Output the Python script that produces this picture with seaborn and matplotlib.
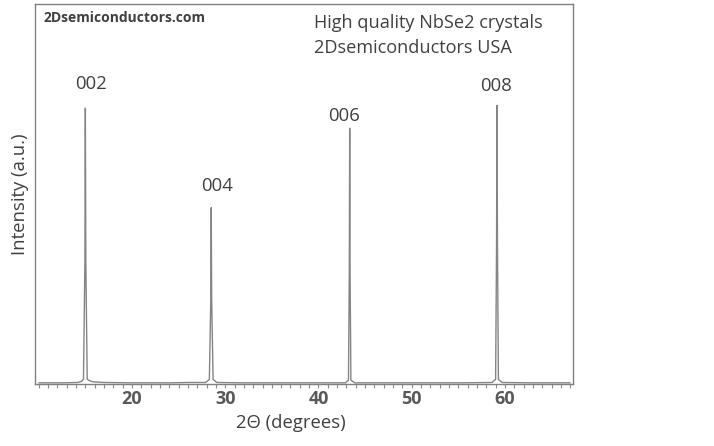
import pandas as pd
import matplotlib.pyplot as plt
import matplotlib.ticker as mticker
import seaborn as sns

# XRD pattern of NbSe2 (2-theta in degrees, intensity in a.u.)
two_theta = [10.0, 12.5, 14.2, 14.6, 14.8, 14.95, 15.0, 15.05, 15.2, 15.4, 15.8, 16.3, 17.0,
             20.0, 24.0, 26.0, 27.9, 28.3, 28.45, 28.5, 28.55, 28.7, 29.1, 32.0,
             36.0, 40.0, 42.9, 43.22, 43.31, 43.35, 43.39, 43.48, 43.9, 47.0,
             51.0, 55.0, 58.6, 59.0, 59.1, 59.15, 59.2, 59.3, 59.7, 63.0, 67.0]
intensity = [0.3, 0.3, 0.4, 0.7, 1.3, 32.0, 72.6, 32.0, 1.3, 0.9, 0.6, 0.5, 0.4,
             0.3, 0.3, 0.4, 0.4, 1.2, 22.0, 46.4, 22.0, 1.2, 0.4, 0.3,
             0.3, 0.3, 0.3, 1.0, 30.0, 67.3, 30.0, 1.0, 0.3, 0.3,
             0.3, 0.3, 0.4, 1.2, 36.0, 73.3, 36.0, 1.2, 0.4, 0.3, 0.3]

peak_labels = ['002', '004', '006', '008']
label_x = [15.6, 29.1, 42.8, 59.0]
label_y = [79.0, 52.0, 70.5, 78.5]

df = pd.DataFrame({'two_theta': two_theta, 'intensity': intensity})

sns.set_style('white')
plt.rcParams['font.family'] = ['Open Sans', 'DejaVu Sans']

fig = plt.figure(figsize=(7.14, 4.46), dpi=100)
ax = fig.add_axes([35 / 714, 1 - 384 / 446, 538 / 714, 380 / 446])

sns.lineplot(data=df, x='two_theta', y='intensity', ax=ax, color='#858585', linewidth=1.0)

ax.set_xlim(9.6, 67.3)
ax.set_ylim(0, 100)
ax.xaxis.set_major_locator(mticker.FixedLocator([20, 30, 40, 50, 60]))
ax.xaxis.set_minor_locator(mticker.FixedLocator(list(range(10, 68))))
ax.tick_params(axis='x', which='both', direction='out', length=3, width=0.8,
               color='#8c8c8c', bottom=True, pad=1.5)
ax.tick_params(axis='x', which='major', labelsize=13, labelcolor='#595959')
for lab in ax.get_xticklabels():
    lab.set_fontweight('bold')
ax.set_yticks([])

for side in ['left', 'right', 'top', 'bottom']:
    ax.spines[side].set_visible(True)
    ax.spines[side].set_color('#808080')
    ax.spines[side].set_linewidth(1.0)

ax.set_xlabel('2Θ (degrees)', fontsize=13.3, color='#404040')
ax.xaxis.set_label_coords(0.476, -0.08)
ax.set_ylabel('Intensity (a.u.)', fontsize=13.3, color='#404040')
ax.yaxis.set_label_coords(-0.012, 0.5)

for lab, x, y in zip(peak_labels, label_x, label_y):
    ax.text(x, y, lab, ha='center', va='center', fontsize=13.3, color='#404040')

ax.text(0.016, 0.963, '2Dsemiconductors.com', transform=ax.transAxes, ha='left', va='center',
        fontsize=10, fontweight='bold', color='#404040')
ax.text(0.518, 0.95, 'High quality NbSe2 crystals', transform=ax.transAxes, ha='left',
        va='center', fontsize=13.1, color='#404040')
ax.text(0.518, 0.884, '2Dsemiconductors USA', transform=ax.transAxes, ha='left',
        va='center', fontsize=13.1, color='#404040')

fig.savefig('out.png', dpi=100)
